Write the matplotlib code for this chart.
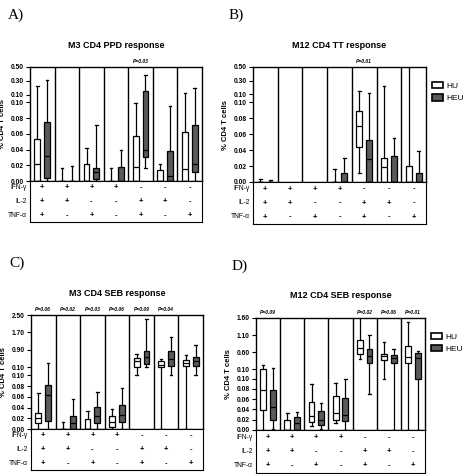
import numpy as np
import matplotlib
matplotlib.use("Agg")
import matplotlib.pyplot as plt
from matplotlib.patches import Patch

plt.rcParams['font.family'] = ['Liberation Sans', 'DejaVu Sans']

# stats per group: (whislo, q1, med, q3, whishi)
A_hu  = [(0,0,0.022,0.054,0.217),(0,0,0,0,0.016),(0,0,0,0.022,0.042),(0,0,0,0,0.017),
         (0,0,0.018,0.057,0.099),(0,0,0,0.014,0.022),(0,0,0.015,0.062,0.124)]
A_heu = [(0,0.004,0.032,0.075,0.315),(0,0,0,0,0.019),(0,0.003,0.011,0.017,0.071),(0,0,0,0.018,0.039),
         (0.016,0.030,0.040,0.144,0.383),(0,0,0.006,0.038,0.096),(0,0.011,0.021,0.071,0.193)]
B_hu  = [(0,0,0,0,0.004),None,None,(0,0,0,0,0.016),
         (0.011,0.044,0.070,0.089,0.151),(0,0,0.019,0.030,0.213),(0,0,0,0.020,0.5)]
B_heu = [(0,0,0,0,0.003),None,None,(0,0,0,0.011,0.030),
         (0,0,0.029,0.053,0.12),(0,0,0,0.033,0.055),(0,0,0,0.011,0.039)]
C_hu  = [(0,0.012,0.020,0.029,0.067),(0,0,0,0,0.013),(0,0,0,0.019,0.033),(0,0.004,0.013,0.024,0.038),
         (0.1,0.13,0.38,0.53,0.72),(0,0.13,0.22,0.41,0.47),(0,0.16,0.30,0.45,0.67)]
C_heu = [(0,0.015,0.063,0.082,0.285),(0,0,0.011,0.025,0.056),(0,0.012,0.025,0.041,0.069),(0,0.013,0.027,0.045,0.076),
         (0.13,0.25,0.60,0.87,2.33),(0.1,0.16,0.48,0.87,1.48),(0.1,0.15,0.41,0.60,1.15)]
D_hu  = [(0,0.039,0.078,0.11,0.23),(0,0,0,0.020,0.034),(0.008,0.015,0.027,0.055,0.090),(0.013,0.020,0.033,0.066,0.092),
         (0.40,0.55,0.72,0.95,1.62),(0.1,0.38,0.50,0.55,0.91),(0,0.30,0.45,0.78,1.48)]
D_heu = [(0.002,0.020,0.044,0.077,0.13),(0,0,0.014,0.026,0.036),(0.002,0.010,0.020,0.037,0.053),(0,0.018,0.030,0.063,0.10),
         (0.071,0.28,0.49,0.70,1.11),(0,0.30,0.44,0.53,0.70),(0,0.10,0.44,0.58,0.64)]

titles = ["M3 CD4 PPD response", "M12 CD4 TT response", "M3 CD4 SEB response", "M12 CD4 SEB response"]
letters = ["A)", "B)", "C)", "D)"]
pvals = [{4: "P=0.03"}, {4: "P=0.01"},
         {0: "P=0.06", 1: "P=0.02", 2: "P=0.03", 3: "P=0.06", 4: "P=0.09", 5: "P=0.04"},
         {0: "P=0.09", 4: "P=0.02", 5: "P=0.06", 6: "P=0.01"}]
upper_ticks = [[0.10, 0.30, 0.50], [0.10, 0.30, 0.50], [0.10, 0.90, 1.70, 2.50], [0.10, 0.60, 1.10, 1.60]]
lower_ticks = [0.00, 0.02, 0.04, 0.06, 0.08, 0.10]
row_labels = ["IFN-γ", "IL-2", "TNF-α"]
ifn = ["+", "+", "+", "+", "-", "-", "-"]
il2 = ["+", "+", "-", "-", "+", "+", "-"]
tnf = ["+", "-", "+", "-", "+", "-", "+"]
series = [(A_hu, A_heu), (B_hu, B_heu), (C_hu, C_heu), (D_hu, D_heu)]
legend_labels = ["HU", "HEU"]

gaps = [0.10, 0.10, 0.15, 0.18]
ups = [0.35, 0.34, 0.98, 1.0]
rects = [(30, 202, 67, 181, 222), (253, 426, 67, 182, 224),
         (31, 203, 315, 429, 470), (256, 425, 318, 430, 473)]
DARK = "#5a5a5a"

fig = plt.figure(figsize=(4.74, 4.74), dpi=100)
W = H = 474.0

for k in range(4):
    x0, x1, yt, yb, ytb = rects[k]
    top = upper_ticks[k][-1]
    g, u = gaps[k], ups[k]

    def fwd(y, top=top, g=g, u=u):
        y = np.asarray(y, dtype=float)
        return np.where(y <= 0.1, y / 0.1, 1 + g + (y - 0.1) / (top - 0.1) * u)

    def inv(t, top=top, g=g, u=u):
        t = np.asarray(t, dtype=float)
        return np.where(t <= 1, t * 0.1, 0.1 + (t - 1 - g) / u * (top - 0.1))

    ax = fig.add_axes([x0 / W, 1 - yb / H, (x1 - x0) / W, (yb - yt) / H])
    ax.set_yscale('function', functions=(fwd, inv))
    ax.set_ylim(0, top)
    ax.set_xlim(-0.5, 6.5)
    hu, heu = series[k]
    for data, off, col in [(hu, -0.2, "white"), (heu, 0.2, DARK)]:
        stats, pos = [], []
        for i, s in enumerate(data):
            if s is None:
                continue
            stats.append(dict(whislo=s[0], q1=s[1], med=s[2], q3=s[3], whishi=s[4], fliers=[]))
            pos.append(i + off)
        ax.bxp(stats, positions=pos, widths=0.24, patch_artist=True, showfliers=False,
               boxprops=dict(facecolor=col, edgecolor="black", linewidth=0.9),
               medianprops=dict(color="black", linewidth=0.9),
               whiskerprops=dict(color="black", linewidth=0.9),
               capprops=dict(color="black", linewidth=0.9), capwidths=0.1)
    for i in range(6):
        ax.axvline(i + 0.5, color="black", linewidth=1.0)
    ticks = lower_ticks + [upper_ticks[k][0] + 1e-9] + upper_ticks[k][1:]
    ax.set_yticks(ticks)
    ax.set_yticklabels(["%.2f" % t for t in ticks], fontsize=4.8, fontweight="bold")
    ax.set_xticks([])
    ax.tick_params(axis='y', length=3, width=0.8, pad=1.5)
    for sp in ax.spines.values():
        sp.set_linewidth(1.0)
    ax.set_ylabel("% CD4 T cells", fontsize=5.5, fontweight="bold", labelpad=3)
    for i, t in pvals[k].items():
        ax.text(i, 1.03, t, transform=ax.get_xaxis_transform(), fontsize=3.6,
                fontweight="bold", fontstyle="italic", ha="center", va="bottom")
    fig.text((x0 + x1) / 2 / W, 1 - (yt - 22) / H, titles[k], ha="center", va="center",
             fontsize=6.5, fontweight="bold")
    fig.text((x0 - 22 if k % 2 == 0 else x0 - 24) / W, 1 - (yt - 52) / H, letters[k],
             fontsize=11, family="Liberation Serif", va="center")

    tx = fig.add_axes([x0 / W, 1 - ytb / H, (x1 - x0) / W, (ytb - yb) / H])
    tx.set_xlim(-0.5, 6.5)
    tx.set_ylim(0, 3)
    tx.set_xticks([])
    tx.set_yticks([])
    for r, (lab, row) in enumerate(zip(row_labels, [ifn, il2, tnf])):
        yv = 2.5 - r
        tx.text(-0.62, yv, lab, ha="right", va="center", fontsize=4.8)
        for i, s in enumerate(row):
            tx.text(i, yv, s, ha="center", va="center", fontsize=5.5, fontweight="bold")

    if k % 2 == 1:
        handles = [Patch(facecolor="white", edgecolor="black", linewidth=1.2),
                   Patch(facecolor=DARK, edgecolor="black", linewidth=1.2)]
        ax.legend(handles, legend_labels, loc="upper left", bbox_to_anchor=(1.0, 0.92),
                  frameon=False, fontsize=6, handlelength=1.3, handleheight=0.8,
                  handletextpad=0.5, borderaxespad=0.3)

fig.savefig("out.png", dpi=100)
